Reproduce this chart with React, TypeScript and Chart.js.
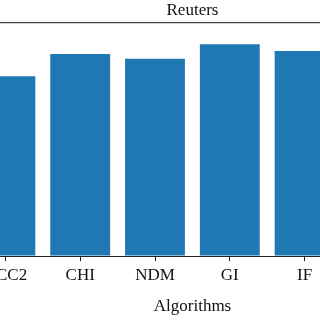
import React, { useEffect, useRef } from 'react';
import { Chart, registerables } from 'chart.js';

Chart.register(...registerables);

const categories = ['ACC2', 'CHI', 'NDM', 'GI', 'IF'];
const values = [0.77, 0.865, 0.844, 0.907, 0.878];
const chartTitle = 'Reuters';
const xAxisTitle = 'Algorithms';

const FONT = 'Liberation Serif';

export default function App() {
  const ref = useRef<HTMLCanvasElement>(null);
  useEffect(() => {
    const chart = new Chart(ref.current as HTMLCanvasElement, {
      type: 'bar',
      data: {
        labels: categories,
        datasets: [
          {
            data: values,
            backgroundColor: '#1f77b4',
            borderWidth: 0,
            categoryPercentage: 1,
            barPercentage: 0.8,
          },
        ],
      },
      options: {
        animation: false,
        responsive: false,
        devicePixelRatio: 1,
        layout: { padding: 0 },
        plugins: {
          legend: { display: false },
          tooltip: { enabled: false },
          title: {
            display: true,
            text: chartTitle,
            color: '#111',
            font: { family: FONT, size: 17, weight: 'normal' },
            padding: { top: 0, bottom: 2 },
          },
          subtitle: {
            display: true,
            position: 'bottom',
            text: xAxisTitle,
            color: '#111',
            font: { family: FONT, size: 17, weight: 'normal' },
            padding: { top: 7, bottom: 3 },
          },
        },
        scales: {
          x: {
            offset: true,
            grid: {
              display: true,
              drawOnChartArea: false,
              drawTicks: true,
              tickLength: 5,
              offset: false,
              color: '#222',
            },
            border: { display: true, color: '#222', width: 1 },
            ticks: {
              color: '#111',
              font: { family: FONT, size: 17 },
              padding: 4,
              maxRotation: 0,
              autoSkip: false,
            },
          },
          y: {
            position: 'right',
            min: 0,
            max: 1,
            ticks: { display: false, stepSize: 1 },
            grid: {
              drawTicks: false,
              lineWidth: 1.3,
              color: (c: any) => (c.tick && c.tick.value === 1 ? '#444' : 'rgba(0,0,0,0)'),
            },
            border: { display: false },
            afterFit: (s: any) => {
              s.width = 75;
            },
          },
        },
      },
    } as any);
    return () => chart.destroy();
  }, []);
  return (
    <div style={{ position: 'fixed', left: 0, top: 0, width: 320, height: 320, overflow: 'hidden', background: '#fff' }}>
      <div style={{ position: 'absolute', left: -32, top: 0 }}>
        <canvas ref={ref} width={449} height={320} style={{ display: 'block' }} />
      </div>
    </div>
  );
}
